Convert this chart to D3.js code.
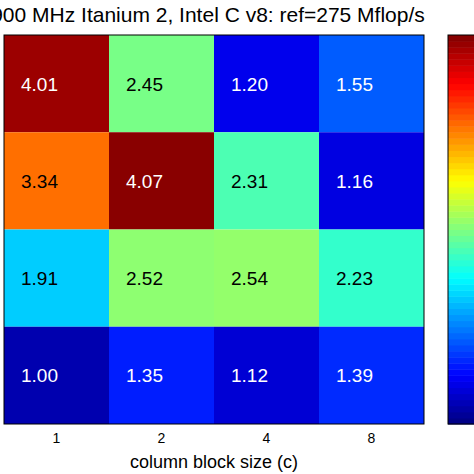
<!DOCTYPE html>
<html><head><meta charset="utf-8">
<script src="https://cdn.jsdelivr.net/npm/d3@7"></script>
<style>body{margin:0;background:#fff}</style>
</head><body><div id="chart"></div>
<script>
var colLabels = ['1', '2', '4', '8'];
var rowLabels = ['r1', 'r2', 'r3', 'r4'];
var values = [
    [4.01, 2.45, 1.20, 1.55],
    [3.34, 4.07, 2.31, 1.16],
    [1.91, 2.52, 2.54, 2.23],
    [1.00, 1.35, 1.12, 1.39]
];
var title = '900 MHz Itanium 2, Intel C v8: ref=275 Mflop/s';

function jet(t) {
    function c(v) { return Math.max(0, Math.min(1, v)); }
    var r = c(1.5 - Math.abs(4 * t - 3)), g = c(1.5 - Math.abs(4 * t - 2)), b = c(1.5 - Math.abs(4 * t - 1));
    return d3.rgb(r * 255, g * 255, b * 255);
}

var svg = d3.select('#chart').append('svg').attr('width', 474).attr('height', 474)
    .style('font-family', 'Liberation Sans, Arial, sans-serif');

var x = d3.scaleBand().domain(colLabels).range([4, 424]);
var y = d3.scaleBand().domain(rowLabels).range([35, 424]);
var tScale = d3.scaleLinear().domain([0.85, 4.1]).range([0, 1]).clamp(true);

var cells = [];
values.forEach(function (row, i) {
    row.forEach(function (v, j) { cells.push({r: rowLabels[i], c: colLabels[j], v: v}); });
});

svg.selectAll('rect.cell').data(cells).enter().append('rect')
    .attr('x', function (d) { return x(d.c); })
    .attr('y', function (d) { return y(d.r); })
    .attr('width', x.bandwidth())
    .attr('height', y.bandwidth())
    .attr('fill', function (d) { return jet(tScale(d.v)); });

svg.selectAll('text.val').data(cells).enter().append('text')
    .attr('x', function (d) { return x(d.c) + 17; })
    .attr('y', function (d) { return y(d.r) + y.bandwidth() / 2 + 7; })
    .attr('font-size', 19)
    .attr('fill', function (d) { var t = tScale(d.v); return (t > 0.3 && t < 0.8) ? '#000' : '#fff'; })
    .text(function (d) { return d.v.toFixed(2); });

svg.append('rect').attr('x', 4).attr('y', 35).attr('width', 420).attr('height', 389)
    .attr('fill', 'none').attr('stroke', '#000').attr('stroke-width', 1);

// colorbar
var cb = d3.scaleLinear().domain([0, 1]).range([424, 35]);
var steps = d3.range(0, 1, 1 / 64);
svg.selectAll('rect.cb').data(steps).enter().append('rect')
    .attr('x', 448).attr('width', 30)
    .attr('y', function (d) { return cb(d + 1 / 64); })
    .attr('height', function (d) { return cb(d) - cb(d + 1 / 64) + 0.5; })
    .attr('fill', function (d) { return jet(d + 0.5 / 64); });
svg.append('rect').attr('x', 448).attr('y', 35).attr('width', 30).attr('height', 389)
    .attr('fill', 'none').attr('stroke', '#000');

svg.selectAll('text.xl').data(colLabels).enter().append('text')
    .attr('x', function (d) { return x(d) + x.bandwidth() / 2; })
    .attr('y', 443).attr('text-anchor', 'middle').attr('font-size', 14)
    .text(function (d) { return d; });

svg.append('text').attr('x', 214).attr('y', 468).attr('text-anchor', 'middle')
    .attr('font-size', 18).text('column block size (c)');
svg.append('text').attr('x', 208).attr('y', 22).attr('text-anchor', 'middle')
    .attr('font-size', 21).text(title);
</script></body></html>
